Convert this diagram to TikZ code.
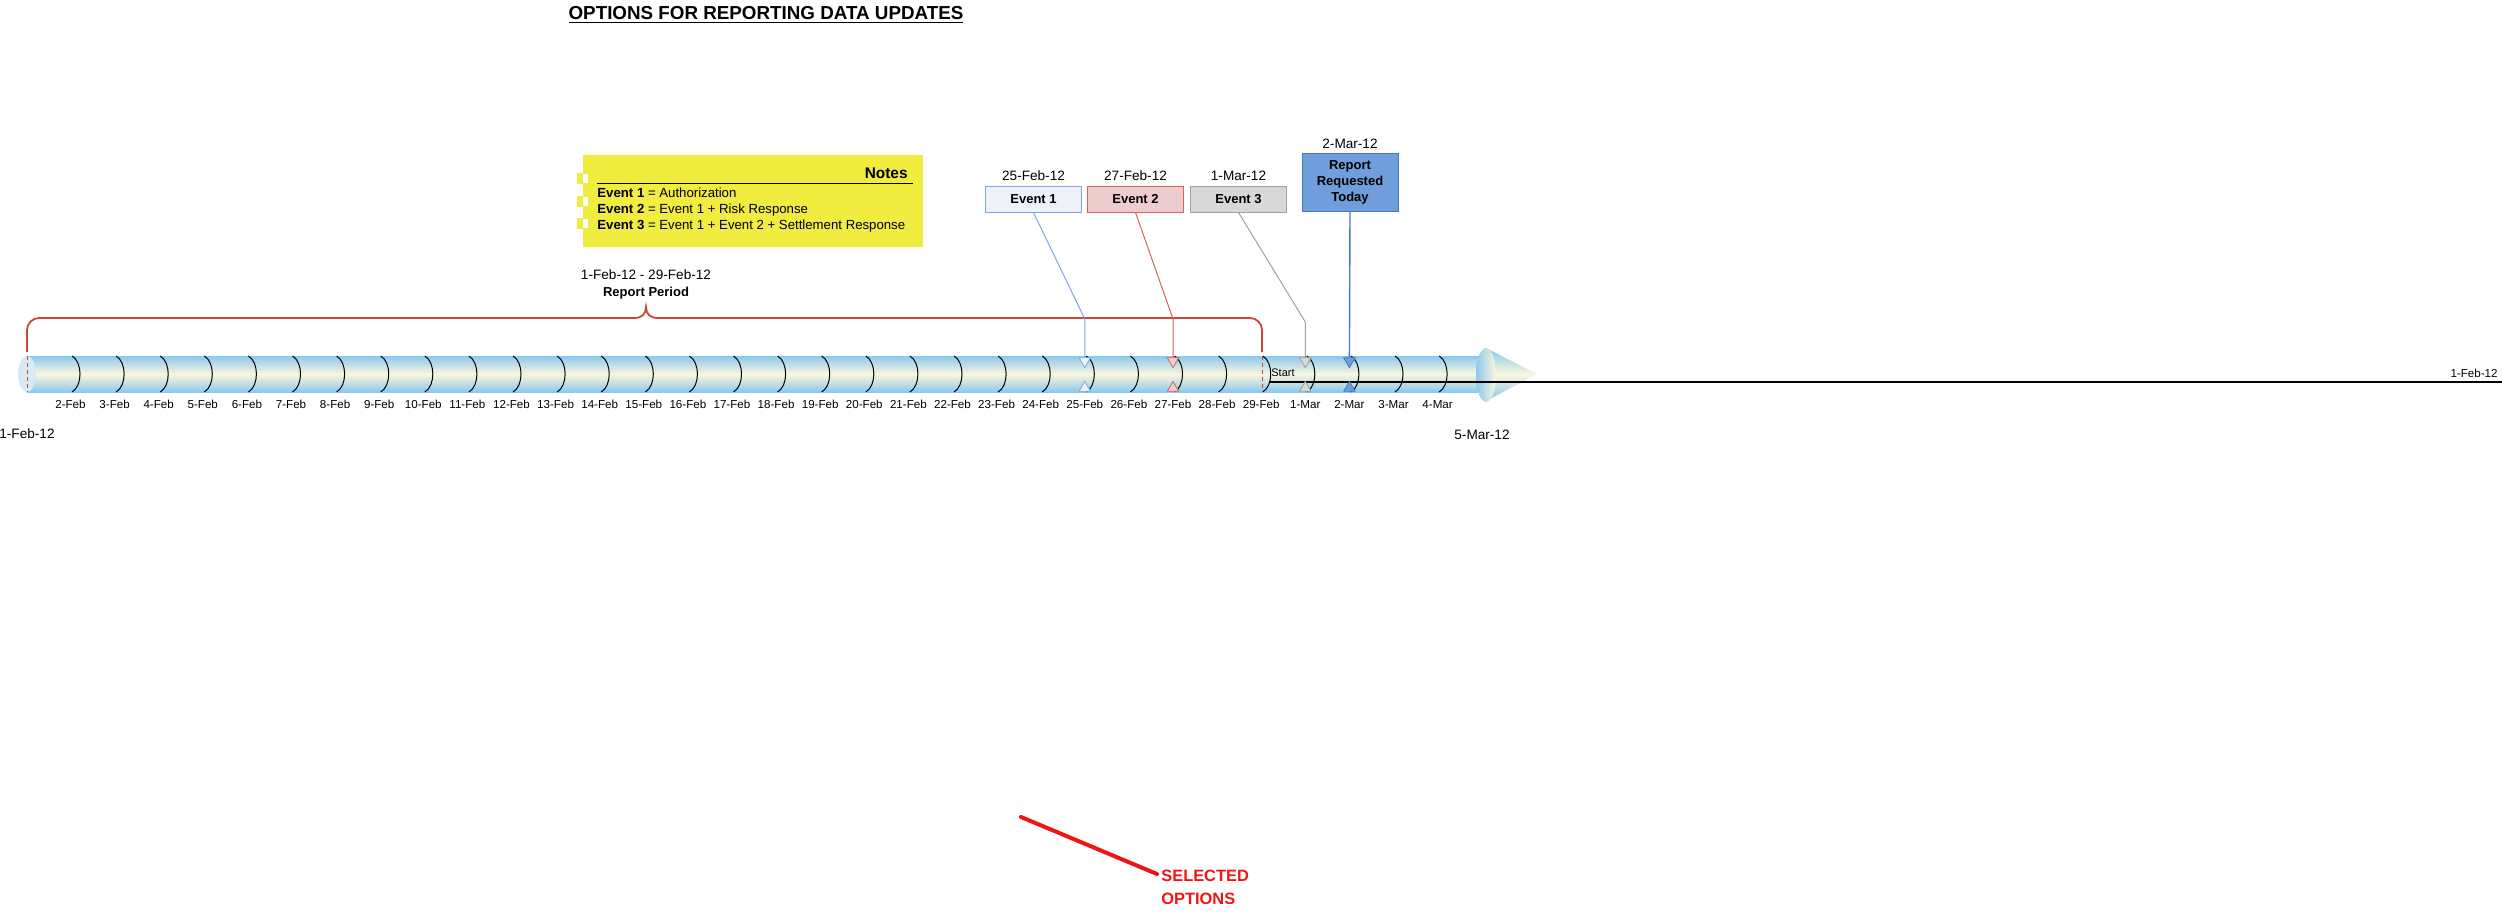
\documentclass[tikz,border=0pt]{standalone}
\usepackage{fontspec}
\setmainfont{Liberation Sans}
\usetikzlibrary{shapes,arrows,positioning}
\definecolor{tubeblue}{RGB}{140,200,236}
\definecolor{tubecream}{RGB}{250,247,222}
\definecolor{capblue}{RGB}{214,234,246}
\definecolor{notesyellow}{RGB}{240,236,64}
\definecolor{bracered}{RGB}{200,70,60}
\definecolor{evaline}{RGB}{125,165,230}
\definecolor{evafill}{RGB}{238,242,248}
\definecolor{evbline}{RGB}{214,100,92}
\definecolor{evbfill}{RGB}{236,204,204}
\definecolor{evcline}{RGB}{160,160,160}
\definecolor{evcfill}{RGB}{216,216,216}
\definecolor{rptline}{RGB}{72,120,190}
\definecolor{rptfill}{RGB}{112,158,220}
\definecolor{selred}{RGB}{240,20,20}
\tikzset{daylbl/.style={font=\fontsize{5.8}{7}\selectfont, inner sep=1pt}}
\tikzset{datelbl/.style={font=\fontsize{6.8}{8}\selectfont, inner sep=1pt}}
\tikzset{notetxt/.style={font=\fontsize{6.6}{7.5}\selectfont, inner sep=0pt, anchor=west}}
\tikzset{evtbox/.style={rectangle, draw, align=center, minimum width=48pt, minimum height=13pt, inner sep=1pt, line width=0.5pt,
 font=\fontsize{6.5}{8}\selectfont\bfseries}}
\tikzset{tri/.style={regular polygon, regular polygon sides=3, draw, minimum size=6.6pt, inner sep=0pt, line width=0.4pt}}
\tikzset{divider/.style={draw=black, line width=0.5pt}}
\tikzset{line/.style={draw, line width=0.5pt}}
\tikzset{brace/.style={draw=bracered, line width=0.9pt}}

\begin{document}
\begin{tikzpicture}[x=0.5pt, y=-0.5pt, node distance=2pt]
\useasboundingbox (0,0) rectangle (2502,911);
\node[font=\fontsize{9.4}{11}\selectfont\bfseries] (ttl) at (766,15) {\underline{OPTIONS FOR REPORTING DATA UPDATES}};

% tube with arrow head
\shade[top color=tubeblue, bottom color=tubeblue, middle color=tubecream] (27,356) rectangle (1484,392);
\fill[capblue] (27,374) ellipse (4.5pt and 9pt);
\shade[top color=tubeblue, bottom color=tubeblue, middle color=tubecream] (1488,349) -- (1537,374) -- (1488,400) -- cycle;
\shade[left color=tubeblue, right color=tubecream] (1486,375) ellipse (5pt and 13.5pt);
\foreach \d in {2,...,33}{
  \pgfmathsetmacro{\xd}{80+(\d-2)*44.1}
  \draw[divider] ({\xd-8},356) .. controls ({\xd+2.7},362) and ({\xd+2.7},386) .. ({\xd-8},392);
}
\draw[bracered, dash pattern=on 2pt off 1.5pt, line width=0.5pt] (27,356) -- (27,392);
\draw[bracered, dash pattern=on 2pt off 1.5pt, line width=0.5pt] (1262,356) -- (1262,392);

% day labels
\foreach \d in {2,...,29}
  \node[daylbl, anchor=base] (day\d) at ({80+(\d-2)*44.1-9.5},408) {\d-Feb};
\foreach \m in {1,...,4}{
  \pgfmathtruncatemacro{\d}{\m+29}
  \node[daylbl, anchor=base] (day\d) at ({80+(\d-2)*44.1-9.5},408) {\m-Mar};
}
\node[datelbl] (fstd) at (27,434) {1-Feb-12};
\node[datelbl] (lstd) at (1482,435) {5-Mar-12};

% report period
\draw[brace, rounded corners=6pt] (27,352) |- (634,318);
\draw[brace] (634,318) .. controls (642,318) and (646,314) .. (646,307) .. controls (646,314) and (650,318) .. (658,318);
\draw[brace, rounded corners=6pt] (658,318) -| (1262,352);
\node[datelbl] (prd) at (646,275) {1-Feb-12 - 29-Feb-12};
\node[datelbl, font=\fontsize{6.5}{8}\selectfont\bfseries, below=1pt of prd] (prdb) {Report Period};

% notes
\node[rectangle, fill=notesyellow, minimum width=170pt, minimum height=46pt] (nts) at (753,201) {};
\foreach \ty in {173,196,218}{
  \fill[notesyellow] (577,\ty) rectangle (584,\ty+11);
  \fill[white] (583,\ty+1) rectangle (588,\ty+10);
}
\node[anchor=east, inner sep=0pt, font=\fontsize{7.7}{9}\selectfont\bfseries] (ntt) at (908,173) {Notes};
\draw[line width=0.5pt] (597,183) -- (913,183);
\node[notetxt] (nta) at (597,193) {\textbf{Event 1} = Authorization};
\node[notetxt] (ntb) at (597,210) {\textbf{Event 2} = Event 1 + Risk Response};
\node[notetxt] (ntc) at (597,226) {\textbf{Event 3} = Event 1 + Event 2 + Settlement Response};

% events
\node[evtbox, draw=evaline, fill=evafill] (evta) at (1033.5,199) {Event 1};
\node[evtbox, draw=evbline, fill=evbfill, right=2.5pt of evta] (evtb) {Event 2};
\node[evtbox, draw=evcline, fill=evcfill, right=3pt of evtb] (evtc) {Event 3};
\node[evtbox, draw=rptline, fill=rptfill, minimum height=29pt, anchor=south] (rprt) at (1350,212) {Report\\Requested\\Today};
\node[datelbl, above=1pt of evta] (dta) {25-Feb-12};
\node[datelbl, above=1pt of evtb] (dtb) {27-Feb-12};
\node[datelbl, above=1pt of evtc] (dtc) {1-Mar-12};
\node[datelbl, above=1pt of rprt] (dtr) {2-Mar-12};

% base line
\node[anchor=west, inner sep=0pt, font=\fontsize{5.5}{6}\selectfont] (strt) at (1271,373) {Start};
\coordinate (lnst) at (1270,382);
\coordinate (lnen) at (2502,382);
\draw[line width=0.6pt] (lnst) -- (lnen);
\node[daylbl, anchor=east] (endl) at (2500,373) {1-Feb-12};

% markers
\node[tri, shape border rotate=180, draw=evaline, fill=evafill] (mkat) at (day25 |- 0,361) {};
\node[tri, draw=evaline, fill=evafill] (mkab) at (day25 |- 0,388) {};
\node[tri, shape border rotate=180, draw=evbline, fill=evbfill] (mkbt) at (day27 |- 0,361) {};
\node[tri, draw=evbline, fill=evbfill] (mkbb) at (day27 |- 0,388) {};
\node[tri, shape border rotate=180, draw=evcline, fill=evcfill] (mkct) at (day30 |- 0,361) {};
\node[tri, draw=evcline, fill=evcfill] (mkcb) at (day30 |- 0,388) {};
\node[tri, shape border rotate=180, draw=rptline, fill=rptfill] (mkdt) at (day31 |- 0,361) {};
\node[tri, draw=rptline, fill=rptfill] (mkdb) at (day31 |- 0,388) {};

\coordinate (bnda) at (day25 |- 0,319);
\coordinate (bndb) at (day27 |- 0,319);
\coordinate (bndc) at (day30 |- 0,322);
\path[line, draw=evaline] (evta.south) -- (bnda) -- (mkat);
\path[line, draw=evbline] (evtb.south) -- (bndb) -- (mkbt);
\path[line, draw=evcline] (evtc.south) -- (bndc) -- (mkct);
\path[line, draw=rptline, line width=0.7pt] (rprt.south) -- (mkdt);

% selected options
\node[anchor=north west, text=selred, align=left, inner sep=2pt, font=\fontsize{8.2}{11.5}\selectfont\bfseries] (sel) at (1157,866) {SELECTED\\OPTIONS};
\coordinate (selp) at (1021,817);
\draw[selred, line width=2pt, line cap=round] (selp) -- ([yshift=-4pt]sel.north west);
\end{tikzpicture}
\end{document}
